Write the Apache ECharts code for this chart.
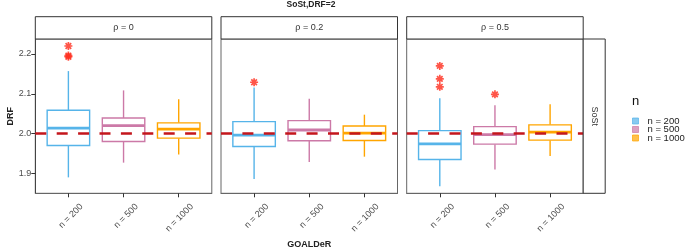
<!DOCTYPE html>
<html>
<head>
<meta charset="utf-8">
<script src="https://cdn.jsdelivr.net/npm/echarts@6/dist/echarts.min.js"></script>
<style>
  html, body { margin: 0; padding: 0; background: #fff; }
  #chart { width: 685px; height: 247px; }
</style>
</head>
<body>
<div id="chart"></div>
<script>
// data
const categories = ["n = 200", "n = 500", "n = 1000"];
const panels = ["ρ = 0", "ρ = 0.2", "ρ = 0.5"];
const rowStrip = "SoSt";
const yTicks = [1.9, 2.0, 2.1, 2.2];
const refValue = 2;
// [lower whisker, Q1, median, Q3, upper whisker] for n = 200, 500, 1000
const boxRho0 = [
  [1.890, 1.970, 2.0135, 2.0585, 2.157],
  [1.927, 1.980, 2.020, 2.039, 2.1085],
  [1.9475, 1.9885, 2.011, 2.027, 2.086]
];
const boxRho02 = [
  [1.886, 1.9675, 1.996, 2.030, 2.116],
  [1.9285, 1.982, 2.009, 2.0325, 2.0875],
  [1.942, 1.9825, 2.001, 2.019, 2.0475]
];
const boxRho05 = [
  [1.8675, 1.935, 1.974, 2.0075, 2.0885],
  [1.910, 1.9735, 1.9975, 2.0175, 2.071],
  [1.9435, 1.9835, 2.0035, 2.022, 2.0735]
];
// outliers per n
const outRho0 = [[2.220, 2.196, 2.193], [], []];
const outRho02 = [[2.129], [], []];
const outRho05 = [[2.170, 2.1375, 2.1175], [2.0985], []];

const boxes = [boxRho0, boxRho02, boxRho05];
const outliers = [outRho0, outRho02, outRho05];

const colors = ["#56B4E9", "#CC79A7", "#FFA500"];
const font = "Liberation Sans, Arial, sans-serif";

// layout
const gridLeft = [35.3, 221, 406.7];
const gridW = 176.5;
const gridTop = 39;
const gridH = 154.3;
const stripTop = 16.7;
const boxWidth = 0.77;

const myChart = echarts.init(document.getElementById("chart"));

const grids = [], xAxes = [], yAxes = [], series = [], graphics = [];

panels.forEach((p, i) => {
  grids.push({
    left: gridLeft[i], top: gridTop, width: gridW, height: gridH,
    outerBoundsMode: "none", containLabel: false,
    show: true, borderColor: "#666", borderWidth: 1, backgroundColor: "#fff"
  });
  xAxes.push({
    type: "value", gridIndex: i, min: 0.4, max: 3.6,
    axisLine: { show: true, lineStyle: { color: "#666", width: 1 } },
    axisTick: { show: true, customValues: [1, 2, 3], length: 4, lineStyle: { color: "#333", width: 1 } },
    axisLabel: {
      customValues: [1.24, 2.24, 3.24],
      formatter: (v) => categories[Math.round(v) - 1],
      rotate: 45, margin: 12, fontSize: 9, color: "#4d4d4d", fontFamily: font
    },
    splitLine: { show: false },
    name: i === 1 ? "GOALDeR" : "",
    nameLocation: "middle", nameGap: 44,
    nameTextStyle: { fontSize: 9, fontWeight: "bold", color: "#222", fontFamily: font }
  });
  yAxes.push({
    type: "value", gridIndex: i, min: 1.85, max: 2.2376,
    axisLine: { show: i === 0, lineStyle: { color: "#444", width: 1 } },
    axisTick: { show: i === 0, customValues: yTicks, length: 4, lineStyle: { color: "#333" } },
    axisLabel: {
      show: i === 0, customValues: yTicks, formatter: (v) => v.toFixed(1),
      margin: 4, fontSize: 9, color: "#4d4d4d", fontFamily: font
    },
    splitLine: { show: false },
    name: i === 0 ? "DRF" : "",
    nameLocation: "middle", nameRotate: 90, nameGap: 19,
    nameTextStyle: { fontSize: 9, fontWeight: "bold", color: "#222", fontFamily: font }
  });

  categories.forEach((c, j) => {
    series.push({
      type: "custom", name: c, xAxisIndex: i, yAxisIndex: i, z: 2,
      itemStyle: { color: colors[j] },
      encode: { x: 0, y: [1, 2, 3, 4, 5] },
      data: [[j + 1].concat(boxes[i][j])],
      renderItem: (params, api) => {
        const x = api.value(0);
        const col = api.visual("color");
        const lo = api.coord([x, api.value(1)]);
        const q1 = api.coord([x, api.value(2)]);
        const md = api.coord([x, api.value(3)]);
        const q3 = api.coord([x, api.value(4)]);
        const hi = api.coord([x, api.value(5)]);
        const xl = api.coord([x - boxWidth / 2, 0])[0];
        const xr = api.coord([x + boxWidth / 2, 0])[0];
        const ls = { stroke: col, lineWidth: 1.4, fill: null };
        return {
          type: "group",
          children: [
            { type: "line", shape: { x1: lo[0], y1: lo[1], x2: q1[0], y2: q1[1] }, style: ls },
            { type: "line", shape: { x1: q3[0], y1: q3[1], x2: hi[0], y2: hi[1] }, style: ls },
            { type: "rect", shape: { x: xl, y: q3[1], width: xr - xl, height: q1[1] - q3[1] },
              style: { stroke: col, lineWidth: 1.4, fill: "#fff" } },
            { type: "line", shape: { x1: xl, y1: md[1], x2: xr, y2: md[1] },
              style: { stroke: col, lineWidth: 2.8 } }
          ]
        };
      }
    });
  });

  const pts = [];
  outliers[i].forEach((arr, j) => arr.forEach((v) => pts.push([j + 1, v])));
  series.push({
    type: "scatter", name: "outlier", xAxisIndex: i, yAxisIndex: i, z: 5,
    symbol: "path://M5,0L5,10M0,5L10,5M1.5,1.5L8.5,8.5M8.5,1.5L1.5,8.5",
    symbolSize: 8,
    itemStyle: { color: "rgba(255,40,30,0.3)", borderColor: "#FF2A1A", borderWidth: 1.7 },
    silent: true,
    data: pts,
    markLine: {
      silent: true, symbol: ["none", "none"], label: { show: false },
      lineStyle: { color: "#C4161C", width: 2.6, type: [11, 10.4] },
      data: [{ yAxis: refValue }]
    }
  });

  // strip on top of each panel
  graphics.push({
    type: "rect", z: 10,
    shape: { x: gridLeft[i], y: stripTop, width: gridW, height: gridTop - stripTop },
    style: { fill: "#fff", stroke: "#333", lineWidth: 1 }
  });
  graphics.push({
    type: "text", z: 11, x: gridLeft[i] + gridW / 2, y: (stripTop + gridTop) / 2,
    style: { text: p, fill: "#333", font: "9px " + font, align: "center", verticalAlign: "middle" }
  });
});

// right strip
const rsX = gridLeft[2] + gridW;
graphics.push({
  type: "rect", z: 10,
  shape: { x: rsX, y: gridTop, width: 22, height: gridH },
  style: { fill: "#fff", stroke: "#333", lineWidth: 1 }
});
graphics.push({
  type: "text", z: 11, x: rsX + 11, y: gridTop + gridH / 2, rotation: -Math.PI / 2,
  style: { text: rowStrip, fill: "#333", font: "9px " + font, align: "center", verticalAlign: "middle" }
});
// title and legend title
graphics.push({
  type: "text", z: 11, x: 311, y: 5,
  style: { text: "SoSt,DRF=2", fill: "#222", font: "bold 8.5px " + font, align: "center", verticalAlign: "middle" }
});
graphics.push({
  type: "text", z: 11, x: 632, y: 101,
  style: { text: "n", fill: "#111", font: "13px " + font, align: "left", verticalAlign: "middle" }
});

myChart.setOption({
  animation: false,
  grid: grids,
  xAxis: xAxes,
  yAxis: yAxes,
  legend: {
    orient: "vertical", left: 632, top: 116, itemWidth: 6, itemHeight: 6, itemGap: -1.5,
    selectedMode: false, padding: 0,
    data: categories.map((c, j) => ({
      name: c, icon: "rect",
      itemStyle: { color: colors[j], opacity: 0.7, borderColor: colors[j], borderWidth: 1 }
    })),
    textStyle: { fontSize: 9.5, color: "#222", fontFamily: font, lineHeight: 9,
      padding: [0, 0, 0, 4], overflow: "none", width: 60 }
  },
  graphic: graphics,
  series: series
});
</script>
</body>
</html>
